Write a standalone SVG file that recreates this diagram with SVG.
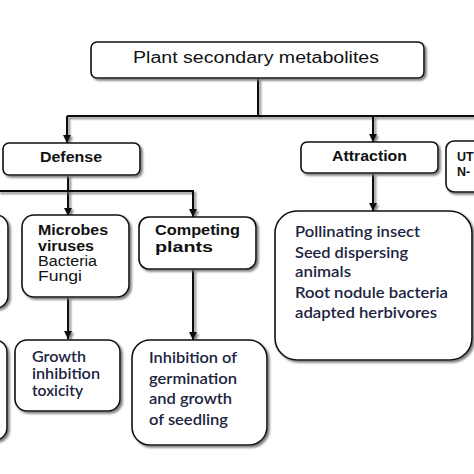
<svg xmlns="http://www.w3.org/2000/svg" width="474" height="474" viewBox="0 0 474 474">
<defs>
<filter id="sh" filterUnits="userSpaceOnUse" x="-60" y="-60" width="600" height="600">
<feDropShadow dx="2" dy="2" stdDeviation="0.8" flood-color="#6f6f6f" flood-opacity="0.9"/>
</filter>
<marker id="ar" viewBox="0 0 10 10" refX="10" refY="5" markerWidth="8" markerHeight="8" markerUnits="userSpaceOnUse" orient="auto">
<path d="M0,0 L10,5 L0,10 z" fill="#111"/>
</marker>
<style>
.box{fill:#fff;stroke:#111;stroke-width:1.6;filter:url(#sh)}
.ln{fill:none;stroke:#111;stroke-width:2;filter:url(#sh)}
.t{font-family:"Liberation Sans",Arial,sans-serif;fill:#111}
.b{font-weight:bold}
.c{font-family:Lato,"Open Sans",sans-serif;font-weight:600;fill:#1b2440;font-size:14.5px}
</style>
</defs>
<rect width="474" height="474" fill="#fff"/>
<g id="connectors">
<path class="ln" d="M258,78 V116"/>
<path class="ln" d="M67,116 H476"/>
<path class="ln" d="M67,116 V143" marker-end="url(#ar)"/>
<path class="ln" d="M373,116 V142" marker-end="url(#ar)"/>
<path class="ln" d="M68,175 V216" marker-end="url(#ar)"/>
<path class="ln" d="M-2,191 H193 V217" marker-end="url(#ar)"/>
<path class="ln" d="M373,173 V211" marker-end="url(#ar)"/>
<path class="ln" d="M68,297 V339" marker-end="url(#ar)"/>
<path class="ln" d="M193,269 V340" marker-end="url(#ar)"/>
</g>
<g id="root">
<rect class="box" x="91" y="42" width="333" height="36" rx="6"/>
<text class="t" x="133" y="63" font-size="16" textLength="246" lengthAdjust="spacingAndGlyphs">Plant secondary metabolites</text>
</g>
<g id="defense">
<rect class="box" x="3" y="143" width="137" height="32" rx="6"/>
<text class="t b" x="40" y="162" font-size="14" textLength="62" lengthAdjust="spacingAndGlyphs">Defense</text>
</g>
<g id="attraction">
<rect class="box" x="301" y="142" width="137" height="31" rx="6"/>
<text class="t b" x="332" y="161" font-size="14" textLength="75" lengthAdjust="spacingAndGlyphs">Attraction</text>
</g>
<g id="ut">
<rect class="box" x="446" y="141" width="40" height="51" rx="8"/>
<text class="t b" x="457" y="161" font-size="12.5">UT</text>
<text class="t b" x="457" y="176" font-size="12.5">N-</text>
</g>
<g id="left-partial-1">
<rect class="box" x="-30" y="215" width="38" height="93" rx="12"/>
</g>
<g id="microbes">
<rect class="box" x="22" y="215" width="107" height="82" rx="12"/>
<text class="t b" x="38" y="235" font-size="14" textLength="70" lengthAdjust="spacingAndGlyphs">Microbes</text>
<text class="t b" x="38" y="251" font-size="14" textLength="56" lengthAdjust="spacingAndGlyphs">viruses</text>
<text class="t" x="38" y="266" font-size="14" textLength="59" lengthAdjust="spacingAndGlyphs">Bacteria</text>
<text class="t" x="38" y="281" font-size="14" textLength="44" lengthAdjust="spacingAndGlyphs">Fungi</text>
</g>
<g id="competing">
<rect class="box" x="139" y="217" width="117" height="52" rx="10"/>
<text class="t b" x="155" y="235" font-size="14" textLength="85" lengthAdjust="spacingAndGlyphs">Competing</text>
<text class="t b" x="155" y="252" font-size="14" textLength="58" lengthAdjust="spacingAndGlyphs">plants</text>
</g>
<g id="attraction-targets">
<rect class="box" x="275" y="211" width="197" height="149" rx="22"/>
<text class="c" x="295" y="237" textLength="125" lengthAdjust="spacingAndGlyphs">Pollinating insect</text>
<text class="c" x="295" y="258" textLength="113" lengthAdjust="spacingAndGlyphs">Seed dispersing</text>
<text class="c" x="295" y="277" textLength="56" lengthAdjust="spacingAndGlyphs">animals</text>
<text class="c" x="295" y="298" textLength="153" lengthAdjust="spacingAndGlyphs">Root nodule bacteria</text>
<text class="c" x="295" y="318" textLength="142" lengthAdjust="spacingAndGlyphs">adapted herbivores</text>
</g>
<g id="left-partial-2">
<rect class="box" x="-30" y="340" width="37" height="100" rx="12"/>
</g>
<g id="growth">
<rect class="box" x="15" y="340" width="105" height="71" rx="12"/>
<text class="c" x="32" y="362" textLength="54" lengthAdjust="spacingAndGlyphs">Growth</text>
<text class="c" x="32" y="379" textLength="68" lengthAdjust="spacingAndGlyphs">inhibition</text>
<text class="c" x="32" y="396" textLength="51" lengthAdjust="spacingAndGlyphs">toxicity</text>
</g>
<g id="inhibition">
<rect class="box" x="132" y="340" width="135" height="105" rx="18"/>
<text class="c" x="149" y="363" textLength="88" lengthAdjust="spacingAndGlyphs">Inhibition of</text>
<text class="c" x="149" y="384" textLength="88" lengthAdjust="spacingAndGlyphs">germination</text>
<text class="c" x="149" y="404" textLength="83" lengthAdjust="spacingAndGlyphs">and growth</text>
<text class="c" x="149" y="425" textLength="79" lengthAdjust="spacingAndGlyphs">of seedling</text>
</g>
</svg>
